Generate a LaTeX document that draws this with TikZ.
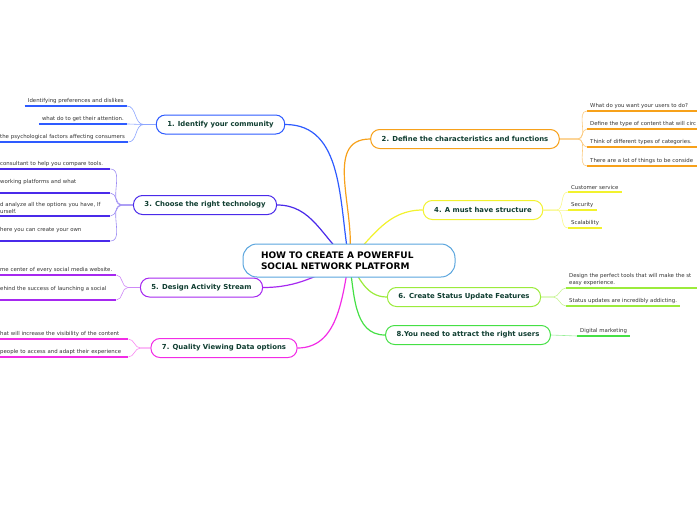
\documentclass[tikz,border=0pt]{standalone}
\usepackage{fontspec}
\setmainfont{DejaVu Sans}
\usetikzlibrary{positioning, backgrounds}
\definecolor{mmCore}{HTML}{5AA5DE}
\definecolor{mmOne}{HTML}{2E5BFF}
\definecolor{mmTwo}{HTML}{F7A11A}
\definecolor{mmThree}{HTML}{4A2AEA}
\definecolor{mmFour}{HTML}{F2F22E}
\definecolor{mmFive}{HTML}{A628F0}
\definecolor{mmSix}{HTML}{9BEB3C}
\definecolor{mmSeven}{HTML}{F22CE6}
\definecolor{mmEight}{HTML}{45E045}
\definecolor{mmText}{HTML}{0F3D30}
\definecolor{mmLeafText}{HTML}{333333}
\tikzset{
    core/.style={
        draw=mmCore,
        line width=1pt,
        fill=white,
        rounded corners=14pt,
        minimum height=33pt,
        text width=176pt,
        inner xsep=18pt,
        align=left,
        font=\fontsize{9}{11}\selectfont\bfseries
    },
    topic/.style={
        draw=#1,
        line width=1pt,
        fill=white,
        rounded corners=9pt,
        minimum height=19pt,
        inner xsep=11pt,
        font=\fontsize{6.9}{8}\selectfont\bfseries,
        text=mmText
    },
    leaf/.style={
        inner xsep=3pt,
        inner ysep=2pt,
        align=left,
        font=\fontsize{5.4}{7}\selectfont,
        text=mmLeafText
    },
    % leaves running to the left edge
    cutleaf/.style={leaf, inner xsep=2pt, anchor=south west, text width=#1},
    % Lines
    stem/.style={draw=#1, line width=1.2pt},
    twig/.style={draw=#1!55, line width=0.6pt},
    uline/.style={draw=#1, line width=1.3pt}
}

\begin{document}
\begin{tikzpicture}[x=1pt, y=-1pt]
\useasboundingbox (0,0) rectangle (697,520);
\coordinate (edgeR) at (700,0);

% ===== centre =====
\node[core] (ctr) at (349,260.5) {HOW TO CREATE A POWERFUL\\SOCIAL NETWORK PLATFORM};

% ===== main topics =====
\node[topic=mmOne]   (t1) at (220.5,124.5) {1. Identify your community};
\node[topic=mmTwo]   (t2) at (465,139)     {2. Define the characteristics and functions};
\node[topic=mmThree] (t3) at (205,205)     {3. Choose the right technology};
\node[topic=mmFour]  (t4) at (483,210)     {4. A must have structure};
\node[topic=mmFive]  (t5) at (201.5,287.5) {5. Design Activity Stream};
\node[topic=mmSix]   (t6) at (464,297)     {6. Create Status Update Features};
\node[topic=mmSeven] (t7) at (224,348)     {7. Quality Viewing Data options};
\node[topic=mmEight] (t8) at (468,335)     {8.You need to attract the right users};

\begin{pgfonlayer}{background}
\draw[stem=mmOne]   (t1.east) to[out=0, in=100]   (ctr.center);
\draw[stem=mmTwo]   (t2.west) to[out=180, in=80]  (ctr.center);
\draw[stem=mmThree] (t3.east) to[out=0, in=140]   (ctr.center);
\draw[stem=mmFour]  (t4.west) to[out=180, in=45]  (ctr.center);
\draw[stem=mmFive]  (t5.east) to[out=0, in=-155]  (ctr.center);
\draw[stem=mmSix]   (t6.west) to[out=180, in=-60] (ctr.center);
\draw[stem=mmSeven] (t7.east) to[out=0, in=-100]  (ctr.center);
\draw[stem=mmEight] (t8.west) to[out=180, in=-80] (ctr.center);
\end{pgfonlayer}

% ===== LEFT leaves =====
\node[leaf, anchor=south east] (a1) at (127,106) {Identifying preferences and dislikes};
\node[leaf, anchor=south east] (a2) at (127,124) {what do to get their attention.};
\node[cutleaf=126pt] (a3) at (-2,142) {the psychological factors affecting consumers};

\node[cutleaf=108pt] (b1) at (-2,169) {consultant to help you compare tools.};
\node[cutleaf=108pt] (b2) at (-2,193) {working platforms and what\\\mbox{}};
\node[cutleaf=108pt] (b3) at (-2,216) {d analyze all the options you have, If\\urself.};
\node[cutleaf=108pt] (b4) at (-2,241) {here you can create your own\\\mbox{}};

\node[cutleaf=114pt] (c1) at (-2,275) {me center of every social media website.};
\node[cutleaf=114pt] (c2) at (-2,300) {ehind the success of launching a social\\\mbox{}};

\node[cutleaf=126pt] (d1) at (-2,339) {hat will increase the visibility of the content};
\node[cutleaf=126pt] (d2) at (-2,357) {people to access and adapt their experience};

% ===== RIGHT leaves =====
\node[leaf, anchor=south west] (e1) at (587,111) {What do you want your users to do?};
\node[leaf, anchor=south west] (e2) at (587,129) {Define the type of content that will circ};
\node[leaf, anchor=south west] (e3) at (587,147) {Think of different types of categories.};
\node[leaf, anchor=south west] (e4) at (587,166) {There are a lot of things to be conside};

\node[leaf, anchor=south west] (g1) at (568,192) {Customer service};
\node[leaf, anchor=south west] (g2) at (568,210) {Security};
\node[leaf, anchor=south west] (g3) at (568,228) {Scalability};

\node[leaf, anchor=south west] (h1) at (566,288) {Design the perfect tools that will make the st\\easy experience.};
\node[leaf, anchor=south west] (h2) at (566,306) {Status updates are incredibly addicting.};

\node[leaf, anchor=south west] (i1) at (577,336) {Digital marketing};

% underlines
\foreach \n/\c in {a1/mmOne, a2/mmOne, a3/mmOne,
                   b1/mmThree, b2/mmThree, b3/mmThree, b4/mmThree,
                   c1/mmFive, c2/mmFive, d1/mmSeven, d2/mmSeven,
                   g1/mmFour, g2/mmFour, g3/mmFour,
                   h2/mmSix, i1/mmEight}
  \draw[uline=\c] (\n.south west) -- (\n.south east);
\foreach \n/\c in {e1/mmTwo, e2/mmTwo, e3/mmTwo, e4/mmTwo, h1/mmSix}
  \draw[uline=\c] (\n.south west) -- (\n.south west -| edgeR);

% twigs
\foreach \n in {a1, a2, a3}
  \draw[twig=mmOne] (t1.west) -- ++(-12,0) to[out=180, in=0] (\n.south east);
\foreach \n in {b1, b2, b3, b4}
  \draw[twig=mmThree] (t3.west) -- ++(-11,0) to[out=180, in=0] (\n.south east);
\foreach \n in {c1, c2}
  \draw[twig=mmFive] (t5.west) -- ++(-12,0) to[out=180, in=0] (\n.south east);
\foreach \n in {d1, d2}
  \draw[twig=mmSeven] (t7.west) -- ++(-10,0) to[out=180, in=0] (\n.south east);
\foreach \n in {e1, e2, e3, e4}
  \draw[twig=mmTwo] (t2.east) -- ++(18,0) to[out=0, in=180] (\n.south west);
\foreach \n in {g1, g2, g3}
  \draw[twig=mmFour] (t4.east) -- ++(13,0) to[out=0, in=180] (\n.south west);
\foreach \n in {h1, h2}
  \draw[twig=mmSix] (t6.east) -- ++(12,0) to[out=0, in=180] (\n.south west);
\draw[twig=mmEight] (t8.east) -- (i1.south west);

\end{tikzpicture}
\end{document}
